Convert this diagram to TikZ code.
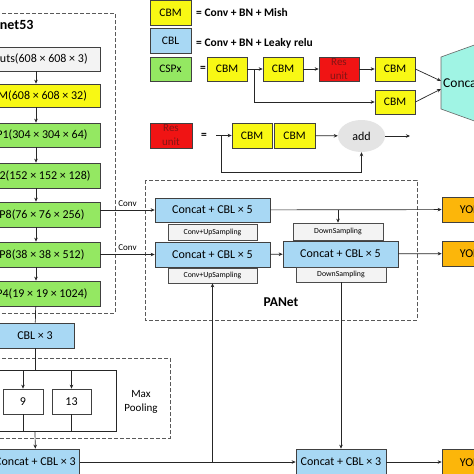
\documentclass[tikz,border=0pt]{standalone}
\usepackage{fontspec}
\setmainfont{Carlito}
\usetikzlibrary{arrows.meta,shapes.geometric}
\definecolor{cbmyel}{RGB}{248,248,20}
\definecolor{cblblue}{RGB}{168,216,244}
\definecolor{cspgreen}{RGB}{148,232,98}
\definecolor{resred}{RGB}{240,20,20}
\definecolor{restext}{RGB}{130,20,20}
\definecolor{yoloorange}{RGB}{252,182,10}
\definecolor{concatcyan}{RGB}{160,244,228}
\definecolor{opgray}{RGB}{243,243,243}
\definecolor{addgray}{RGB}{228,228,228}
\begin{document}
\begin{tikzpicture}[x=1pt,y=-1pt,
    blk/.style={draw=black!75, line width=0.7pt, minimum height=24pt, inner sep=1pt, font=\fontsize{12}{13}\selectfont},
    cbm/.style={blk, fill=cbmyel, minimum width=40pt, font=\fontsize{11.5}{13}\selectfont},
    cbl/.style={blk, fill=cblblue},
    csp/.style={blk, fill=cspgreen},
    op/.style={draw=black!70, line width=0.6pt, fill=opgray, minimum height=16pt, minimum width=90pt, inner sep=0pt, font=\fontsize{7.8}{9}\selectfont},
    yolo/.style={blk, fill=yoloorange, minimum width=90pt, minimum height=25pt, font=\fontsize{12}{13}\selectfont},
    dashbox/.style={draw=black!65, line width=0.7pt, dash pattern=on 4pt off 2pt},
    arr/.style={-{Stealth[length=4pt,width=3.5pt]}, draw=black!85, line width=0.7pt},
    ln/.style={draw=black!85, line width=0.7pt},
    eqtext/.style={font=\bfseries\fontsize{11.5}{13}\selectfont, anchor=west, inner sep=0pt}]
  \useasboundingbox (0,0) rectangle (474,474);
  \clip (0,0) rectangle (474,474);
  \fill[white] (0,0) rectangle (474,474);

  % legend
  \node[cbm, minimum width=41pt, minimum height=25pt] (lgcbm) at (170.5,12.5) {CBM};
  \node[eqtext] at (196,13) {= Conv + BN + Mish};
  \node[cbl, minimum width=41pt, minimum height=25pt, font=\fontsize{11.5}{13}\selectfont] (lgcbl) at (170.5,40.5) {CBL};
  \node[eqtext] at (196,43) {= Conv + BN + Leaky relu};
  \node[csp, minimum width=41pt, font=\fontsize{11.5}{13}\selectfont] (lgcsp) at (170.5,69) {CSPx};
  \node[eqtext] at (200,69) {=};

  % CSPx block
  \node[cbm] (cspa) at (227,69) {CBM};
  \node[cbm] (cspb) at (283,69) {CBM};
  \node[blk, fill=resred, minimum width=40pt, text=restext, align=center, font=\fontsize{11}{14}\selectfont] (cspres) at (339,69) {Res\\unit};
  \node[cbm] (cspc) at (395,69) {CBM};
  \node[cbm] (cspd) at (395,102) {CBM};
  \fill[concatcyan, draw=black!60, line width=0.6pt] (441,57) -- (530,25) -- (530,141) -- (441,109) -- cycle;
  \node[anchor=west, inner sep=0pt, font=\fontsize{13.5}{15}\selectfont] (cspcat) at (443,83) {Concat};
  \coordinate (catin1) at (441,81);
  \coordinate (catin2) at (441,89);
  \draw[arr] (cspa) -- (cspb);
  \draw[arr] (cspb) -- (cspres);
  \draw[arr] (cspres) -- (cspc);
  \draw[arr] (254,69) |- (cspd.west);
  \draw[arr] (cspc.east) -- (catin1);
  \draw[arr] (cspd.east) -- (catin2);

  % Res unit block
  \node[blk, fill=resred, minimum width=42pt, minimum height=25pt, text=restext, align=center, font=\fontsize{11}{14}\selectfont] (lgres) at (171,135.5) {Res\\unit};
  \node[eqtext] at (201,136) {=};
  \node[cbm, minimum height=25pt] (resa) at (252,135.5) {CBM};
  \node[cbm, minimum height=25pt, minimum width=41pt] (resb) at (294.5,135.5) {CBM};
  \node[ellipse, fill=addgray, minimum width=47pt, minimum height=32pt, inner sep=0pt, font=\fontsize{12}{13}\selectfont] (add) at (361.5,136) {add};
  \coordinate (resin) at (216,135.5);
  \coordinate (resout) at (410,136);
  \draw[arr] (resin) -- (resa);
  \draw[arr] (resb) -- (add);
  \draw[arr] (add) -- (resout);
  \draw[arr] (221,135.5) -- (221,172) -| (add.south);

  % backbone
  \draw[dashbox] (-10,13) rectangle (115,313);
  \node[anchor=east, font=\bfseries\fontsize{14}{16}\selectfont] at (37,25) {CSPDarknet53};
  \node[blk, fill=opgray, minimum width=128pt] (inp) at (36,59) {Inputs(608 × 608 × 3)};
  \node[blk, fill=cbmyel, minimum width=128pt, minimum height=23pt] (bcbm) at (36,95.5) {CBM(608 × 608 × 32)};
  \node[csp, minimum width=128pt] (csp1) at (36,135) {CSP1(304 × 304 × 64)};
  \node[csp, minimum width=128pt, minimum height=25pt] (csp2) at (36,175.5) {CSP2(152 × 152 × 128)};
  \node[csp, minimum width=128pt, minimum height=25pt] (csp8a) at (36,214.5) {CSP8(76 × 76 × 256)};
  \node[csp, minimum width=128pt, minimum height=25pt] (csp8b) at (36,254.5) {CSP8(38 × 38 × 512)};
  \node[csp, minimum width=128pt, minimum height=25pt] (csp4) at (36,293.5) {CSP4(19 × 19 × 1024)};
  \foreach \a/\b in {inp/bcbm, bcbm/csp1, csp1/csp2, csp2/csp8a, csp8a/csp8b, csp8b/csp4}
    \draw[arr] (\a) -- (\b);

  % SPP
  \node[cbl, minimum width=78pt, minimum height=25pt] (cbl3) at (35,335.5) {CBL × 3};
  \draw[ln] (csp4) -- (cbl3);
  \draw[dashbox] (-10,358) rectangle (170,438);
  \draw[ln] (-20,370) rectangle (116,431);
  \node[blk, fill=white, minimum width=40pt, minimum height=25pt] (mp9) at (23,401.5) {9};
  \node[blk, fill=white, minimum width=39pt, minimum height=25pt] (mp13) at (71.5,401.5) {13};
  \node[align=center, font=\fontsize{11}{14}\selectfont] at (141,402) {Max\\Pooling};
  \draw[ln] (cbl3) -- (35,370);
  \draw[arr] (mp9 |- 0,370) -- (mp9);
  \draw[arr] (mp13 |- 0,370) -- (mp13);
  \draw[ln] (mp9) -- (mp9 |- 0,431);
  \draw[ln] (mp13) -- (mp13 |- 0,431);
  \node[cbl, minimum width=88pt, minimum height=26pt] (spp) at (35.5,462) {Concat + CBL × 3};
  \draw[arr] (35,431) -- (spp);

  % PANet
  \draw[dashbox] (145,180) rectangle (417,320);
  \node[font=\bfseries\fontsize{13.5}{15}\selectfont] at (281,302) {PANet};
  \node[cbl, minimum width=115pt] (cata) at (212.5,210) {Concat + CBL × 5};
  \node[op, minimum width=89pt] (upa) at (212.5,232) {Conv+UpSampling};
  \node[cbl, minimum width=115pt, minimum height=25pt] (catb) at (212.5,254.5) {Concat + CBL × 5};
  \node[op, minimum width=89pt, minimum height=15pt] (upb) at (212.5,275.5) {Conv+UpSampling};
  \node[op, minimum height=17pt] (downa) at (338,231.5) {DownSampling};
  \node[cbl, minimum width=115pt, minimum height=26pt] (catc) at (340.5,254) {Concat + CBL × 5};
  \node[op, minimum height=15pt] (downb) at (341,274.5) {DownSampling};
  \draw[arr] (csp8a.east |- cata) -- node[above, pos=0.5, font=\fontsize{9}{10}\selectfont] {Conv} (cata);
  \draw[arr] (csp8b.east |- catb) -- node[above, pos=0.5, font=\fontsize{9}{10}\selectfont] {Conv} (catb);
  \draw[arr] (catb) -- (catc);

  % heads
  \node[yolo] (yoloa) at (487,209.5) {YOLO Head};
  \node[yolo] (yolob) at (487,253.5) {YOLO Head};
  \node[cbl, minimum width=90pt, minimum height=26pt] (catd) at (341,462) {Concat + CBL × 3};
  \node[yolo] (yoloc) at (487,462) {YOLO Head};
  \draw[arr] (cata) -- (yoloa);
  \draw[arr] (downa |- cata) -- (downa);
  \draw[arr] (catc) -- (yolob);
  \draw[arr] (downb) -- (catd);
  \draw[arr] (spp) -- (catd);
  \draw[arr] (upb |- spp) -- (upb);
  \draw[arr] (catd) -- (yoloc);
\end{tikzpicture}
\end{document}
